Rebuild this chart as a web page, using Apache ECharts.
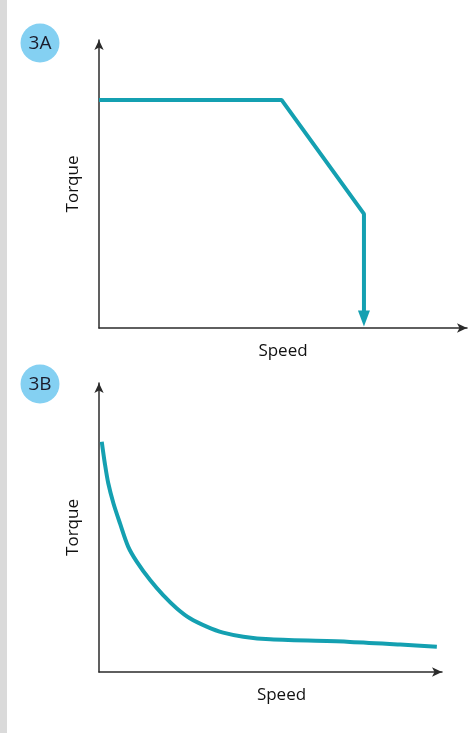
<!DOCTYPE html>
<html>
<head>
<meta charset="utf-8">
<script src="https://cdn.jsdelivr.net/npm/echarts@6/dist/echarts.min.js"></script>
<style>
  html, body { margin: 0; padding: 0; background: #fff; }
  #main { width: 474px; height: 733px; }
</style>
</head>
<body>
<div id="main"></div>
<script>
// 3A: 恒扭矩 -> 下降段 -> 竖直截止 (speed, torque 0-100)
let constTorqueSpeed = [0, 49.6, 72.0, 72.0]
let constTorqueValue = [79.2, 79.2, 39.6, 3.3]

// 3B: 扭矩随转速递减的曲线
let curveSpeed = [0.8, 1.7, 2.7, 4.2, 6.1, 8.5, 11.0, 14.9, 18.7, 22.7, 26.5, 31.4, 36.2, 42.1, 49.9, 73.2, 87.8, 98.5]
let curveTorque = [79.7, 72.2, 65.3, 58.4, 51.5, 43.4, 38.2, 31.8, 26.6, 22.0, 18.6, 15.7, 13.6, 12.2, 11.3, 10.4, 9.5, 8.7]

let axisTitles = { x: 'Speed', y: 'Torque' }
let panelTags = ['3A', '3B']

let lineColor = '#14a0b1'
let axisColor = '#2b2b2b'
let font = 'Open Sans'

let myChart = echarts.init(document.getElementById('main'))

function pairs(xs, ys) {
    return xs.map(function (x, i) { return [x, ys[i]] })
}

// 3A 数据，最后一点画成向下的箭头
let dataA = pairs(constTorqueSpeed, constTorqueValue).map(function (p, i, arr) {
    if (i === arr.length - 1) {
        return { value: p, symbol: 'triangle', symbolSize: [12, 16], symbolRotate: 180 }
    }
    return { value: p, symbol: 'none' }
})

function xAxisOf(idx, pad) {
    return {
        type: 'value', gridIndex: idx, min: 0, max: 100,
        name: axisTitles.x, nameLocation: 'middle', nameGap: 15,
        nameTextStyle: { color: '#111', fontSize: 17, fontFamily: font, padding: pad },
        axisLine: { lineStyle: { color: axisColor, width: 1.5 }, symbol: ['none', 'arrow'], symbolSize: [7, 10] },
        axisTick: { show: false }, axisLabel: { show: false }, splitLine: { show: false }
    }
}
function yAxisOf(idx) {
    return {
        type: 'value', gridIndex: idx, min: 0, max: 100,
        name: axisTitles.y, nameLocation: 'middle', nameGap: 17,
        nameTextStyle: { color: '#111', fontSize: 17, fontFamily: font },
        axisLine: { show: true, lineStyle: { color: axisColor, width: 1.5 }, symbol: ['none', 'arrow'], symbolSize: [7, 10] },
        axisTick: { show: false }, axisLabel: { show: false }, splitLine: { show: false }
    }
}

let option = {
    animation: false,
    grid: [
        { left: 99, right: 7, top: 40, bottom: 405 },
        { left: 99, right: 32, top: 383, bottom: 61 }
    ],
    xAxis: [xAxisOf(0, [0, 0, 0, 0]), xAxisOf(1, [0, 0, 0, 22])],
    yAxis: [yAxisOf(0), yAxisOf(1)],
    graphic: [
        { type: 'rect', shape: { x: 0, y: 0, width: 7, height: 733 }, style: { fill: '#dadada' } },
        { type: 'circle', shape: { cx: 40, cy: 43, r: 19.5 }, style: { fill: '#84d0f2' } },
        { type: 'text', x: 40, y: 44, style: { text: panelTags[0], fill: '#1b1b2b', fontSize: 19, fontFamily: font, align: 'center', verticalAlign: 'middle' } },
        { type: 'circle', shape: { cx: 40, cy: 384, r: 19.5 }, style: { fill: '#84d0f2' } },
        { type: 'text', x: 40, y: 385, style: { text: panelTags[1], fill: '#1b1b2b', fontSize: 19, fontFamily: font, align: 'center', verticalAlign: 'middle' } }
    ],
    series: [
        {
            type: 'line', xAxisIndex: 0, yAxisIndex: 0,
            data: dataA,
            symbol: 'none',
            itemStyle: { color: lineColor },
            lineStyle: { color: lineColor, width: 4 }
        },
        {
            type: 'line', xAxisIndex: 1, yAxisIndex: 1,
            data: pairs(curveSpeed, curveTorque),
            smooth: 0.3,
            showSymbol: false,
            lineStyle: { color: lineColor, width: 4 }
        }
    ]
}
myChart.setOption(option)
</script>
</body>
</html>
